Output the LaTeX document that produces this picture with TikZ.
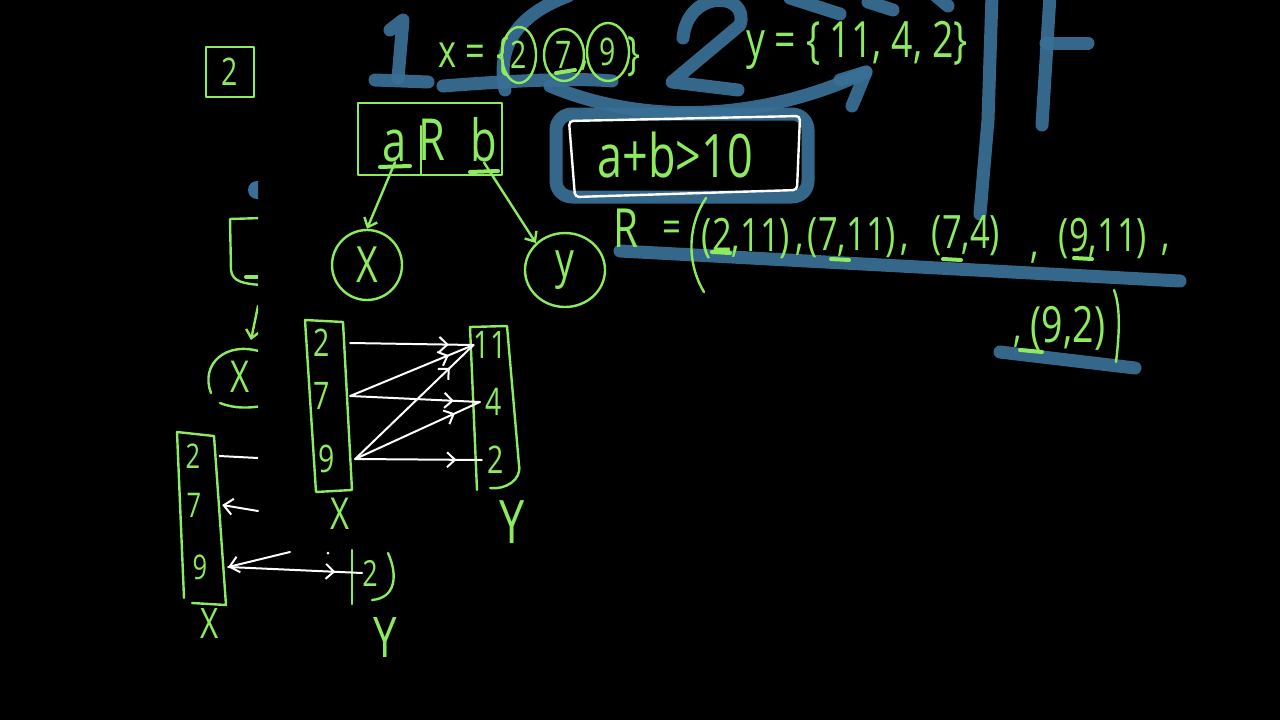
\documentclass[tikz,border=0pt]{standalone}
\usepackage{fontspec}
\newfontfamily\handfont[FakeStretch=0.75]{Open Sans}
\usetikzlibrary{arrows.meta,decorations.markings,shapes.geometric,positioning}

\definecolor{chalkgreen}{RGB}{140,235,95}
\definecolor{markblue}{RGB}{58,112,150}

\tikzset{
  chalk/.style={draw=chalkgreen, line width=2.4pt, line cap=round, line join=round},
  marker/.style={draw=markblue, line width=13pt, line cap=round, line join=round, opacity=0.92},
  hand/.style={text=chalkgreen, inner sep=0pt, font=\handfont\fontsize{#1}{#1}\selectfont},
  hand/.default=40,
  wire/.style={draw=white, line width=2pt, line cap=round,
    postaction={decorate},
    decoration={markings, mark=at position 0.8 with {\arrow{Straight Barb[length=8pt,width=15pt,line width=2pt]}}}},
  backwire/.style={draw=white, line width=2pt, line cap=round,
    {Straight Barb[length=9pt,width=16pt,line width=2pt]}-},
  greentip/.style={chalk, -{Straight Barb[length=8pt,width=14pt,line width=2.4pt]}},
}

\begin{document}
\begin{tikzpicture}[x=1pt,y=-1pt]
  % board
  \fill[black] (0,0) rectangle (1280,720);
  \useasboundingbox (0,0) rectangle (1280,720);

  % marker strokes (drawn first, chalk goes on top)
  \draw[marker] (390,30) -- (403,20) -- (398,78);
  \draw[marker] (375,80) -- (428,82);
  \draw[marker] (443,86) .. controls (520,80) and (580,78) .. (612,81);
  \draw[marker] (505,90) .. controls (495,40) and (525,12) .. (568,-4);
  \draw[marker] (550,86) .. controls (650,128) and (770,118) .. (866,72);
  \draw[marker] (840,80) -- (866,72) -- (852,106);
  \draw[marker] (683,38) .. controls (688,-12) and (750,-8) .. (740,25) -- (672,82) -- (738,90);
  \draw[marker] (790,-2) -- (840,14);
  \draw[marker] (868,2) -- (893,10);
  \draw[marker] (936,-4) -- (948,6);
  \draw[marker] (992,-5) -- (988,120) -- (980,214);
  \draw[marker] (1050,-5) -- (1042,125);
  \draw[marker] (1046,43) -- (1088,43);
  \draw[marker, rounded corners=16pt] (556,114) rectangle (808,197);
  \draw[marker] (620,251) -- (1180,281);
  \draw[marker] (1000,352) -- (1135,368);

  % page number
  \node[chalk, hand=38, minimum width=48, minimum height=50] (page) at (230,72) {2};

  % sets
  \node[hand=46] (xeq) at (462,55) {x =};
  \node[hand=46] (xbr) at (503,57) {\{};
  \node[hand=38, chalk, ellipse, minimum width=34, minimum height=56] (x2) at (519,55) {2};
  \node[hand=38, chalk, ellipse, minimum width=40, minimum height=52] (x7) at (564,55) {7};
  \node[hand=38] (xcm) at (585,66) {,};
  \node[hand=38, chalk, ellipse, minimum width=42, minimum height=58] (x9) at (608,52) {9};
  \node[hand=46] (xbl) at (634,57) {\}};
  \node[hand=50] (yset) at (857,45) {y = \{\ 11,\ 4,\ 2\}};

  % aRb
  \node[chalk, minimum width=144, minimum height=72] (arb) at (430,139) {};
  \node[hand=58] (ra) at (395,146) {a};
  \node[hand=58] (rr) at (432,140) {R};
  \node[hand=58] (rb) at (484,140) {b};
  \draw[chalk] (421,126) -- (421,175);
  \draw[chalk, line width=4pt] (380,167) -- (410,166);
  \draw[chalk, line width=4pt] (470,172) -- (498,171);
  \node[hand=50, chalk, circle, minimum size=70] (setx) at (367,265) {X};
  \node[hand=50, chalk, ellipse, minimum width=80, minimum height=74] (sety) at (565,270) {y};
  \draw[greentip] (ra.south) -- (setx.north);
  \draw[greentip] (rb.south) -- (sety.north west);

  % condition
  \node[hand=60] (cond) at (675,155) {a+b>10};

  % relation
  \node[hand=54] (rel) at (626,228) {R};
  \node[hand=44] (releq) at (672,232) {=};
  \draw[chalk] (706,198) .. controls (688,225) and (686,262) .. (704,292);
  \node[hand=46] (p1) at (746,238) {(2,11)};
  \node[hand=46] (c1) at (800,250) {,};
  \node[hand=46] (p2) at (852,238) {(7,11)};
  \node[hand=46] (c2) at (905,250) {,};
  \node[hand=46] (p3) at (966,236) {(7,4)};
  \node[hand=46] (c3) at (1035,258) {,};
  \node[hand=46] (p4) at (1103,238) {(9,11)};
  \node[hand=46] (c4) at (1166,250) {,};
  \node[hand=50] (p5) at (1068,328) {(9,2)};
  \node[hand=46] (c5) at (1018,342) {,};
  \draw[chalk] (1114,290) .. controls (1122,310) and (1118,345) .. (1116,362);
  \foreach \mx/\my in {721/252, 840/259, 952/259, 1083/258}
    \draw[chalk, line width=4pt] (\mx-9,\my) -- (\mx+9,\my+1);
  \draw[chalk, line width=4pt] (1020,350) -- (1042,352);
  \draw[chalk, line width=4pt] (556,73) -- (575,70);

  % arrow diagram
  \draw[chalk] (305,320) -- (343,322) -- (352,490) -- (316,492) -- cycle;
  \node[hand=38, minimum width=56] (d2) at (322,343) {2};
  \node[hand=38, minimum width=56] (d7) at (322,396) {7};
  \node[hand=38, minimum width=56] (d9) at (327,459) {9};
  \node[hand=44] (dxl) at (340,514) {X};
  \draw[chalk] (477,490) -- (470,327) -- (507,326) -- (519,465)
    .. controls (522,480) and (505,490) .. (490,488);
  \node[hand=38, minimum width=28] (e11) at (490,345) {11};
  \node[hand=38, minimum width=28] (e4) at (494,402) {4};
  \node[hand=38, minimum width=28] (e2) at (496,460) {2};
  \node[hand=60] (dyl) at (512,522) {Y};
  \draw[wire] (d2.east) -- (e11.west);
  \draw[wire] (d7.east) -- (e11.west);
  \draw[wire] (d7.east) -- (e4.west);
  \draw[wire] (d9.east) -- (e11.west);
  \draw[wire] (d9.east) -- (e4.west);
  \draw[wire] (d9.east) -- (e2.west);

  % older diagram, partly covered
  \begin{scope}
    \clip (0,100) rectangle (258,430);
    \fill[markblue] (257,190) circle (9);
    \draw[chalk] (262,218) -- (230,219) -- (231,270) .. controls (232,282) and (245,284) .. (262,285);
    \draw[chalk, line width=4pt] (246,277) -- (262,277);
    \draw[greentip] (258,306) -- (251,340);
    \draw[chalk] (262,352) .. controls (225,340) and (200,365) .. (211,393);
    \draw[chalk] (220,403) .. controls (235,409) and (250,408) .. (262,406);
    \node[hand=44] (oldx) at (240,377) {X};
  \end{scope}
  \draw[chalk] (184,598) -- (177,432) -- (214,436) -- (226,605) -- (192,603);
  \node[hand=34, minimum width=52] (f2) at (193,456) {2};
  \node[hand=34, minimum width=56] (f7) at (194,505) {7};
  \node[hand=34, minimum width=56] (f9) at (200,567) {9};
  \node[hand=42] (fxl) at (210,624) {X};
  \coordinate (cut2) at (258,458);
  \coordinate (cut7) at (258,511);
  \coordinate (cut9) at (290,552);
  \draw[white, line width=2pt] (f2.east) -- (cut2);
  \draw[backwire] (f7.east) -- (cut7);
  \draw[backwire] (f9.east) -- (cut9);
  \draw[chalk] (352,550) -- (352,604);
  \node[hand=36] (g2) at (370,573) {2};
  \draw[chalk] (388,553) .. controls (398,575) and (396,598) .. (372,600);
  \node[hand=56] (gyl) at (385,638) {Y};
  \draw[wire] (f9.east) -- (g2.west);
  \fill[white] (328,553) circle (1.5);

  % white box
  \draw[white, line width=2.4pt, rounded corners=4pt] (569,121) -- (800,116) -- (797,190) -- (575,197) -- cycle;
\end{tikzpicture}
\end{document}
